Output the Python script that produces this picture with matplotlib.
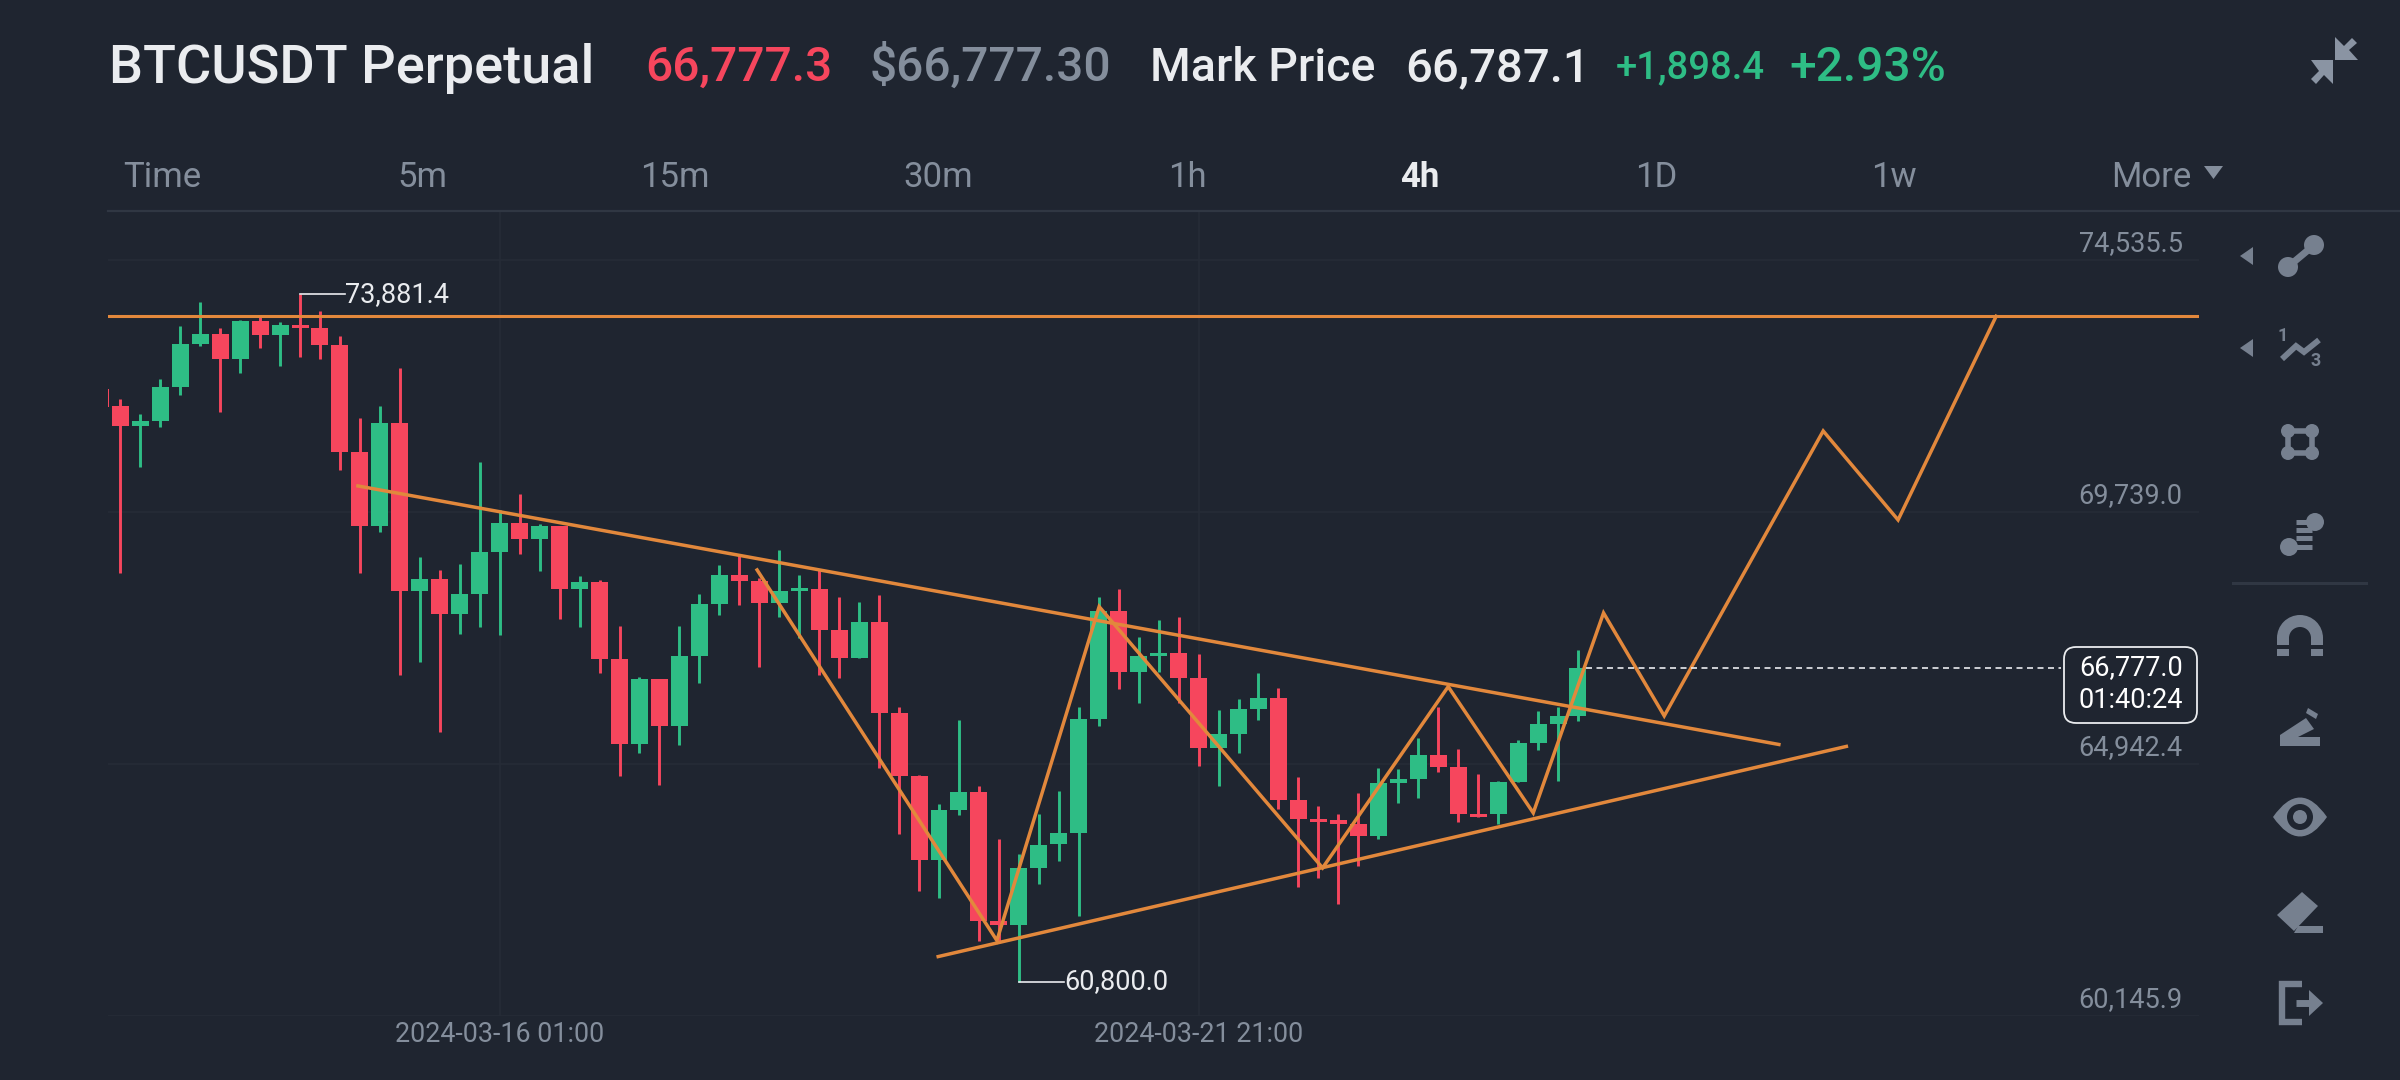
import matplotlib
matplotlib.use('Agg')
import matplotlib.pyplot as plt
from matplotlib.patches import Circle, FancyBboxPatch, Polygon, Rectangle, PathPatch, Wedge
from matplotlib.path import Path
import numpy as np

plt.rcParams['font.family'] = ['Roboto', 'DejaVu Sans']

# 4h candles, first one is cut off by the left edge of the chart
opens = [72074, 71757, 71377, 71478, 72112, 72937, 73127, 72645, 73375, 73102, 73299, 73248, 72918, 70882, 69480, 71434,
         68243, 68459, 67799, 68173, 68973, 69525, 69227, 69468, 68275, 68408, 66943, 65332, 66556, 65662, 66994,
         67990, 68548, 68427, 68015, 68237, 68281, 67488, 66968, 67641, 65915, 64723, 63118, 64063, 64406, 61957,
         61881, 62972, 63416, 63638, 65801, 67856, 66689, 67006, 67063, 66587, 65255, 65522, 65997, 66200, 64253,
         63904, 63879, 63803, 63575, 64589, 64653, 65122, 64894, 64000, 63993, 64608, 65350, 65699, 65864]
highs = [72074, 71884, 71599, 72271, 73286, 73730, 73241, 73388, 73457, 73356, 73881.4, 73571, 73083, 71523, 71757, 72480,
         68890, 68636, 68750, 70692, 69778, 70076, 69505, 69468, 68529, 68446, 67577, 66600, 66569, 67577, 68180,
         68732, 68922, 68478, 69017, 68535, 68637, 68116, 68034, 68154, 66030, 64736, 64177, 65776, 64533, 63524,
         63226, 63987, 64431, 66035, 68116, 68268, 67355, 67685, 67748, 67044, 65972, 66175, 66670, 66384, 64703,
         64145, 63993, 64399, 64862, 64849, 65446, 66035, 65224, 64748, 64615, 65401, 65947, 66035, 67114]
lows = [71745, 68573, 70603, 71364, 71966, 72899, 71643, 72379, 72855, 72512, 72696, 72652, 70540, 68573, 69366, 66639,
        66880, 65554, 67419, 67546, 67393, 68935, 68618, 67710, 67546, 66670, 64723, 65148, 64539, 65300, 66480,
        67787, 67977, 66797, 67736, 67336, 66638, 66588, 66968, 64875, 63607, 62528, 62395, 63981, 61564, 61564,
        60800, 62661, 63093, 62040, 65674, 66378, 66112, 66701, 66099, 64906, 64532, 65147, 65782, 64094, 62598,
        62775, 62281, 63010, 63524, 64209, 64298, 64792, 63847, 63942, 63803, 64608, 65211, 64615, 65757]
closes = [71745, 71377, 71478, 72112, 72937, 73127, 72645, 73375, 73102, 73305, 73248, 72918, 70882, 69480, 71434, 68243,
          68459, 67799, 68173, 68973, 69525, 69227, 69468, 68275, 68408, 66949, 65332, 66556, 65662, 66994, 67990,
          68548, 68421, 68015, 68237, 68294, 67488, 66968, 67641, 65915, 64723, 63118, 64063, 64406, 61957, 61881,
          62972, 63404, 63626, 65801, 67856, 66689, 67006, 67063, 66587, 65255, 65522, 65997, 66200, 64253, 63904,
          63840, 63809, 63575, 64589, 64653, 65122, 64894, 64000, 63942, 64608, 65350, 65699, 65864, 66777]

price_ticks = [74535.5, 69739.0, 64942.4, 60145.9]
date_ticks = [19, 54]
date_labels = ['2024-03-16 01:00', '2024-03-21 21:00']

# hand drawn lines on the chart, as (candle index, price)
resistance_price = 73464
upper_x = [11.9, 83.06]
upper_y = [70235, 65314]
lower_x = [40.96, 86.44]
lower_y = [61277, 65277]
zigzag_x = [31.89, 43.9, 49.02, 60.21, 66.5, 70.76, 74.28, 77.32, 85.28, 89.03, 93.94]
zigzag_y = [68636, 61582, 67938, 62965, 66415, 64012, 67818, 65858, 71281, 69588, 73464]

high_idx, high_price = 9, 73881.4
low_idx, low_price = 45, 60800.0
last_idx, last_price = 73, 66777.0
countdown = '01:40:24'

tabs = ['Time', '5m', '15m', '30m', '1h', '4h', '1D', '1w', 'More']
tab_x = [162, 422, 675, 938, 1187, 1420, 1656, 1894, 2151]

BG = '#1f2530'
RED = '#f6465d'
GREEN = '#2ebd85'
ORANGE = '#e2883c'
WHITE = '#eaecef'
GREY = '#848e9c'
ICON = '#76808f'
GRID = '#262c37'
BORDER = '#303743'

W, H = 2400, 1080
left, right, top, bottom = 108, 2199, 212, 1016
fig = plt.figure(figsize=(24, 10.8), dpi=100, facecolor=BG)

ax = fig.add_axes([left / W, 1 - bottom / H, (right - left) / W, (bottom - top) / H], facecolor=BG)
ax.set_xlim(-0.616, 104.1)
ax.set_ylim(60145.9, 75449)
for s in ax.spines.values():
    s.set_visible(False)
ax.set_yticks(price_ticks)
ax.set_xticks(date_ticks)
ax.set_xticklabels(date_labels)
ax.tick_params(axis='both', length=0, labelleft=False)
ax.tick_params(axis='x', labelsize=19.4, labelcolor=GREY, pad=3.5)
ax.grid(True, color=GRID, lw=1.2)
ax.set_axisbelow(True)

x = np.arange(-1, len(opens) - 1)
o, h, l, c = map(np.array, (opens, highs, lows, closes))
colors = [GREEN if b >= a else RED for a, b in zip(o, c)]
ax.vlines(x, l, h, colors=colors, lw=2.1, zorder=2)
ax.bar(x, np.abs(c - o), bottom=np.minimum(o, c), width=0.85, color=colors, lw=0, zorder=3)

ax.axhline(resistance_price, color=ORANGE, lw=2.2, zorder=4)
ax.plot(upper_x, upper_y, color=ORANGE, lw=2.5, zorder=4)
ax.plot(lower_x, lower_y, color=ORANGE, lw=2.5, zorder=4)
ax.plot(zigzag_x, zigzag_y, color=ORANGE, lw=2.5, zorder=4, solid_joinstyle='miter')

for price in price_ticks:
    ax.annotate(f'{price:,.1f}', xy=(1, price), xycoords=ax.get_yaxis_transform(), xytext=(-11.7, 12.2),
                textcoords='offset points', ha='right', va='center', fontsize=19.5, color=GREY)

# high / low markers
ax.plot([high_idx, high_idx + 2.25], [high_price, high_price], color=WHITE, lw=1.2, zorder=5)
ax.text(high_idx + 2.25, high_price, f'{high_price:,.1f}', color=WHITE, fontsize=19.5, va='center', ha='left', zorder=5)
ax.plot([low_idx, low_idx + 2.25], [low_price, low_price], color=WHITE, lw=1.2, zorder=5)
ax.text(low_idx + 2.25, low_price, f'{low_price:,.1f}', color=WHITE, fontsize=19.5, va='center', ha='left', zorder=5)

# last price line up to the label box
ax.plot([last_idx + 0.4, 97.2], [last_price, last_price], color=WHITE, lw=1.2, ls=(0, (3.6, 2.7)), zorder=5)

# everything around the chart is drawn in pixel coordinates
ui = fig.add_axes([0, 0, 1, 1], facecolor='none')
ui.set_xlim(0, W)
ui.set_ylim(H, 0)
ui.axis('off')


def label(px, py, s, size, color=WHITE, **kw):
    ui.text(px, py, s, fontsize=size, color=color, va=kw.pop('va', 'baseline'), **kw)


label(109, 83, 'BTCUSDT Perpetual', 39, fontweight='medium')
label(645, 81, '66,777.3', 34.5, RED, fontweight='medium')
label(870, 81, '$66,777.30', 34.5, GREY, fontweight='medium')
label(1150, 81, 'Mark Price', 33.5, fontweight='medium')
label(1405, 81, '66,787.1', 34, fontweight='medium')
label(1616, 78, '+1,898.4', 27.5, GREEN, fontweight='medium')
label(1789, 81, '+2.93%', 34.5, GREEN, fontweight='medium')

for name, tx in zip(tabs, tab_x):
    active = name == '4h'
    label(tx, 187, name, 25, WHITE if active else GREY, ha='center', fontweight='bold' if active else 'normal')
ui.add_patch(Polygon([(2204, 166), (2223, 166), (2213.5, 179)], color=GREY, lw=0))
ui.plot([108, 2400], [211, 211], color=BORDER, lw=1.6)

# price box
ui.add_patch(FancyBboxPatch((2072, 655), 117, 60, boxstyle='round,pad=8,rounding_size=12', fc=BG, ec=WHITE, lw=1.3))
label(2131, 668, f'{last_price:,.1f}', 19.5, '#ffffff', ha='center', va='center')
label(2131, 701, countdown, 19.5, '#ffffff', ha='center', va='center')


def line(xs, ys, lw=4.3):
    ui.plot(xs, ys, color=ICON, lw=lw, solid_capstyle='butt', solid_joinstyle='miter')


def dot(px, py, r):
    ui.add_patch(Circle((px, py), r, color=ICON, lw=0))


def poly(points, color=ICON):
    ui.add_patch(Polygon(points, color=color, lw=0))


# collapse arrows
poly([(2335, 60), (2335, 37), (2344, 46), (2352, 38), (2357, 43), (2349, 50), (2358, 60)], '#8a94a3')
poly([(2333, 60), (2333, 84), (2324, 75), (2316, 84), (2311, 79), (2319, 71), (2311, 60)], '#8a94a3')

# tool bar
for ty in (256, 348):
    poly([(2253, ty - 9), (2253, ty + 9), (2240, ty)])
line([2289, 2313], [266, 246], 5)
dot(2288, 267, 10)
dot(2314, 245, 10)

ui.text(2283, 336, '1', color=ICON, fontsize=13, fontweight='bold', ha='center', va='center')
ui.text(2316, 361, '3', color=ICON, fontsize=13, fontweight='bold', ha='center', va='center')
line([2282, 2296, 2304, 2319], [359, 346, 352, 340], 4.2)

ui.add_patch(Rectangle((2288, 431), 24, 22, fc='none', ec=ICON, lw=4))
for cx in (2288, 2312):
    for cy in (431, 453):
        dot(cx, cy, 7)

dot(2289, 547, 9)
dot(2315, 522, 9)
line([2289, 2312], [547, 547], 3.6)
line([2296, 2312], [538, 538], 3.6)
line([2296, 2312], [530, 530], 3.6)
line([2296, 2315], [522, 522], 3.6)

ui.plot([2233, 2366], [583, 583], color=BORDER, lw=2.2)

# magnet
ui.add_patch(Wedge((2300, 638), 23, 180, 360, width=12, color=ICON, lw=0))
ui.add_patch(Rectangle((2277, 637), 12, 8, color=ICON, lw=0))
ui.add_patch(Rectangle((2311, 637), 12, 8, color=ICON, lw=0))
ui.add_patch(Rectangle((2277, 649), 12, 7, color=ICON, lw=0))
ui.add_patch(Rectangle((2311, 649), 12, 7, color=ICON, lw=0))

# pencil
poly([(2280, 735), (2306, 718), (2314, 729), (2298, 737), (2320, 737), (2320, 746), (2280, 746)])
poly([(2308, 708), (2318, 714), (2316, 719), (2306, 713)])

# eye
eye = Path([(2273, 817), (2300, 778), (2327, 817), (2300, 856), (2273, 817)],
           [Path.MOVETO, Path.CURVE3, Path.CURVE3, Path.CURVE3, Path.CURVE3])
ui.add_patch(PathPatch(eye, fc=ICON, ec='none'))
ui.add_patch(Circle((2300, 817), 13, color=BG, lw=0))
dot(2300, 817, 7)

# eraser
poly([(2277, 915), (2302, 892), (2318, 906), (2294, 931)])
poly([(2298, 926), (2323, 926), (2323, 933), (2294, 933)])

# exit
line([2302, 2282, 2282, 2302], [984, 984, 1022, 1022], 4.6)
line([2296, 2312], [1003, 1003], 5)
poly([(2309, 990), (2323, 1003), (2309, 1016)])

fig.savefig('out.png', dpi=100, facecolor=BG)
plt.close(fig)
